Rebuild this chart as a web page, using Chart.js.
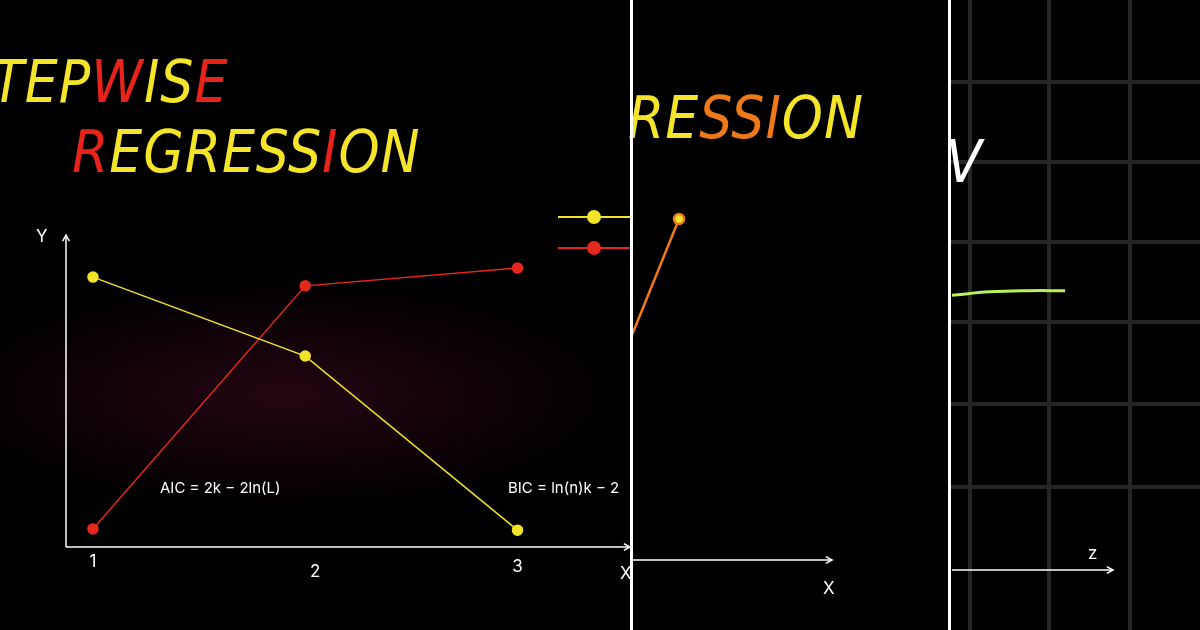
<!DOCTYPE html>
<html><head><meta charset="utf-8">
<script src="https://cdn.jsdelivr.net/npm/chart.js@4"></script>
<style>
body{margin:0;background:#000;width:1200px;height:630px;overflow:hidden;position:relative;font-family:Inter,"Noto Sans",sans-serif}
canvas{position:absolute;left:0;top:0}
.t{position:absolute;font:italic 400 58px "DejaVu Sans Condensed","Liberation Sans",sans-serif;letter-spacing:1px;white-space:nowrap}
.y{color:#f5e52a}.r{color:#e8231c}.o{color:#f07a1a}.w{color:#fff}
.sep{position:absolute;top:0;width:3px;height:630px;background:#fff}
.glow{position:absolute;left:0;top:280px;width:630px;height:230px;background:radial-gradient(ellipse at 45% 50%,rgba(120,20,60,.3),rgba(0,0,0,0) 70%)}
.lbl{position:absolute;color:#fff;font-size:15px}
</style></head><body>
<div class="glow"></div>
<canvas id="c3" width="1200" height="630"></canvas>
<canvas id="c1" width="1200" height="630"></canvas>
<canvas id="c2" width="1200" height="630"></canvas>
<div class="t" style="left:-8px;top:48px"><span class="y">TEP</span><span class="r">W</span><span class="y">IS</span><span class="r">E</span></div>
<div class="t" style="left:72px;top:118px"><span class="r">R</span><span class="y">EGRESS</span><span class="r">I</span><span class="y">ON</span></div>
<div class="t" style="left:628px;top:84px"><span class="y">RE</span><span class="o">SSI</span><span class="y">ON</span></div>
<div class="t w" style="left:946px;top:128px">V</div>
<div class="lbl" style="left:160px;top:478px">AIC = 2k − 2ln(L)</div>
<div class="lbl" style="left:508px;top:478px">BIC = ln(n)k − 2</div>
<div class="lbl" style="left:36px;top:226px;font-size:17px">Y</div>
<div class="lbl" style="left:620px;top:563px;font-size:17px">X</div>
<div class="lbl" style="left:823px;top:578px;font-size:17px">X</div>
<div class="lbl" style="left:1088px;top:543px;font-size:17px">z</div>
<div class="sep" style="left:630px"></div>
<div class="sep" style="left:948px"></div>
<script>
const xTicks = [1, 2, 3];
const tickLabels = ["1", "2", "3"];
const yellowSeries = [86.5, 61.2, 5.4];
const redSeries = [5.8, 83.7, 89.4];
const orangeX = [0, 1];
const orangeSeries = [0, 100];
const greenX = [0, 1, 2, 3];
const greenSeries = [48.2, 48.8, 49.0, 49.0];

function arrow(ctx, x1, y1, x2, y2) {
  ctx.save();
  ctx.strokeStyle = "#fff"; ctx.lineWidth = 1.5;
  ctx.beginPath(); ctx.moveTo(x1, y1); ctx.lineTo(x2, y2); ctx.stroke();
  const a = Math.atan2(y2 - y1, x2 - x1);
  ctx.beginPath();
  ctx.moveTo(x2 - 7 * Math.cos(a - 0.5), y2 - 7 * Math.sin(a - 0.5));
  ctx.lineTo(x2, y2);
  ctx.lineTo(x2 - 7 * Math.cos(a + 0.5), y2 - 7 * Math.sin(a + 0.5));
  ctx.stroke();
  ctx.restore();
}

const axesPlugin = {
  id: "axes",
  afterDraw(chart) {
    const { ctx, chartArea: a, scales } = chart;
    arrow(ctx, a.left, a.bottom, a.right, a.bottom);
    arrow(ctx, a.left, a.bottom, a.left, a.top);
    ctx.fillStyle = "#fff"; ctx.font = "17px Inter"; ctx.textAlign = "center";
    const offs = [20, 30, 25];
    xTicks.forEach((v, i) => ctx.fillText(tickLabels[i], scales.x.getPixelForValue(v) + (i == 1 ? 10 : 0), a.bottom + offs[i]));
  }
};

const pts = (xs, ys) => xs.map((x, i) => ({ x, y: ys[i] }));
const hidden = { display: false };

new Chart(document.getElementById("c1"), {
  type: "line",
  data: { datasets: [
    { data: pts(xTicks, yellowSeries), borderColor: "#f2e32b", backgroundColor: "#f2e32b", borderWidth: 1.5, pointRadius: 5 },
    { data: pts(xTicks, redSeries), borderColor: "#e5281e", backgroundColor: "#e5281e", borderWidth: 1.5, pointRadius: 5 }
  ]},
  options: {
    responsive: false, animation: false,
    layout: { padding: { left: 66, right: 570, top: 235, bottom: 83 } },
    plugins: { legend: hidden, tooltip: { enabled: false } },
    scales: { x: { type: "linear", min: 0.873, max: 3.53, display: false }, y: { min: 0, max: 100, display: false } }
  },
  plugins: [axesPlugin, { id: "legendMarks", afterDraw(chart) {
    const ctx = chart.ctx;
    [["#f2e32b", 217], ["#e5281e", 248]].forEach(([c, y]) => {
      ctx.strokeStyle = c; ctx.fillStyle = c; ctx.lineWidth = 2;
      ctx.beginPath(); ctx.moveTo(558, y); ctx.lineTo(630, y); ctx.stroke();
      ctx.beginPath(); ctx.arc(594, y, 7, 0, Math.PI * 2); ctx.fill();
    });
  }}]
});

new Chart(document.getElementById("c2"), {
  type: "line",
  data: { datasets: [
    { data: pts(orangeX, orangeSeries), borderColor: "#f07a1a", borderWidth: 2.5, clip: false,
      pointRadius: [0, 5], pointBackgroundColor: "#f2e32b", pointBorderColor: "#f07a1a" }
  ]},
  options: {
    responsive: false, animation: false,
    layout: { padding: { left: 632, right: 521, top: 219, bottom: 295 } },
    plugins: { legend: hidden, tooltip: { enabled: false } },
    scales: { x: { type: "linear", min: 0, max: 1, display: false }, y: { min: 0, max: 100, display: false } }
  },
  plugins: [{ id: "ax2", afterDraw(chart) { arrow(chart.ctx, 633, 560, 832, 560); } }]
});

new Chart(document.getElementById("c3"), {
  type: "line",
  data: { datasets: [
    { data: pts(greenX, greenSeries), borderColor: "#b8f25a", borderWidth: 3, pointRadius: 0, tension: 0.4 }
  ]},
  options: {
    responsive: false, animation: false,
    layout: { padding: { left: 952, right: 135, top: 0, bottom: 60 } },
    plugins: { legend: hidden, tooltip: { enabled: false } },
    scales: {
      x: { type: "linear", min: 0, max: 3, display: false },
      y: { min: 0, max: 100, display: false }
    }
  },
  plugins: [{ id: "grid3", beforeDatasetsDraw(chart) {
    const ctx = chart.ctx;
    ctx.save(); ctx.strokeStyle = "#252525"; ctx.lineWidth = 4;
    [970, 1049, 1130].forEach(x => { ctx.beginPath(); ctx.moveTo(x, 0); ctx.lineTo(x, 630); ctx.stroke(); });
    [82, 162, 242, 322, 404, 487].forEach(y => { ctx.beginPath(); ctx.moveTo(950, y); ctx.lineTo(1200, y); ctx.stroke(); });
    ctx.restore();
    arrow(ctx, 952, 570, 1113, 570);
  }}]
});
</script>
</body></html>
